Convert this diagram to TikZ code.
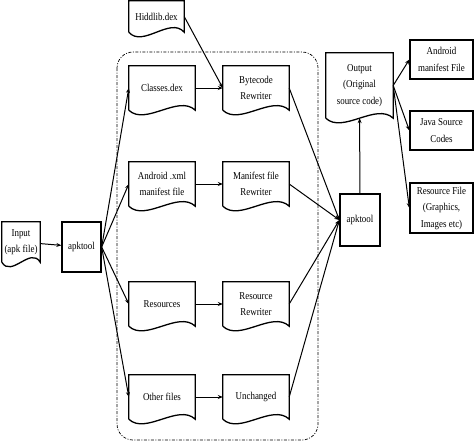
\documentclass[tikz,border=0pt]{standalone}
\usepackage{fontspec}
\setmainfont{Liberation Serif}[FakeStretch=0.85]
\usetikzlibrary{calc,arrows.meta}

\tikzset{
  every node/.style={font=\fontsize{10.5}{16.5}\selectfont, align=center, inner sep=1pt},
  docnode/.style={minimum width=66pt, minimum height=44pt},
  boxnode/.style={draw, line width=1.3pt, minimum width=63pt, minimum height=39pt},
  flow/.style={line width=1pt, -{Stealth[length=5pt,width=4pt]}},
  plain/.style={line width=1pt}
}

\begin{document}
\begin{tikzpicture}[x=1pt, y=-1pt]
    \useasboundingbox (0,0) rectangle (474,442);
    % the dashed group
    \draw[line width=0.7pt, dash pattern=on 3pt off 1.5pt on 1pt off 1.5pt, rounded corners=16pt]
      (117,52) rectangle (318,440);

    % input side
    \node[docnode, minimum width=38pt, minimum height=40pt] (inp) at (21,242) {Input\\(apk file)};
    \node[boxnode, minimum width=39pt, minimum height=50pt] (apk1) at (81.5,247) {apktool};

    % decoded parts
    \node[docnode, minimum width=55pt, minimum height=31pt] (hid) at (156.5,16.5) {Hiddlib.dex};
    \node[docnode] (cls) at (162,88) {Classes.dex};
    \node[docnode] (man) at (162,184) {Android .xml\\manifest file};
    \node[docnode] (res) at (162,304) {Resources};
    \node[docnode] (oth) at (162,397) {Other files};

    \node[docnode] (byt) at (256,88) {Bytecode\\Rewriter};
    \node[docnode] (mrw) at (256,184) {Manifest file\\Rewriter};
    \node[docnode] (rrw) at (256,304) {Resource\\Rewriter};
    \node[docnode] (unc) at (256,397) {Unchanged};

    % output side
    \node[boxnode, minimum width=40pt, minimum height=52pt] (apk2) at (360,220) {apktool};
    \node[docnode, minimum width=67pt, minimum height=65pt] (out) at (359.5,85.5) {Output\\(Original\\source code)};
    \node[boxnode] (amf) at (441.5,59.5) {Android\\manifest File};
    \node[boxnode] (jsc) at (441.5,130.5) {Java Source\\Codes};
    \node[boxnode, minimum height=50pt] (rsf) at (441.5,208) {Resource File\\(Graphics,\\Images etc)};

    % document outlines with a wavy bottom
    \foreach \n in {inp,hid,cls,man,res,oth,byt,mrw,rrw,unc,out}
      \draw[line width=1.3pt] (\n.south west) -- (\n.north west) -- (\n.north east) -- (\n.south east)
        .. controls ($(\n.south)!0.5!(\n.south east)+(0,-16)$) and ($(\n.south west)!0.5!(\n.south)+(0,16)$) .. (\n.south west);

    \draw[flow] (inp) -- (apk1);
    \foreach \n in {cls,man,res,oth}
      \draw[flow] (apk1.east) -- (\n.west);
    \draw[flow] (cls) -- (byt);
    \draw[flow] (hid.east) -- (byt.west);
    \draw[flow] (man) -- (mrw);
    \draw[flow] (res) -- (rrw);
    \draw[flow] (oth) -- (unc);
    \foreach \n in {byt,mrw,rrw,unc}
      \draw[flow] (\n.east) -- (apk2.west);
    \draw[flow] (apk2) -- (out);
    \foreach \n in {amf,jsc,rsf}
      \draw[flow] (out.east) -- (\n.west);
\end{tikzpicture}
\end{document}
